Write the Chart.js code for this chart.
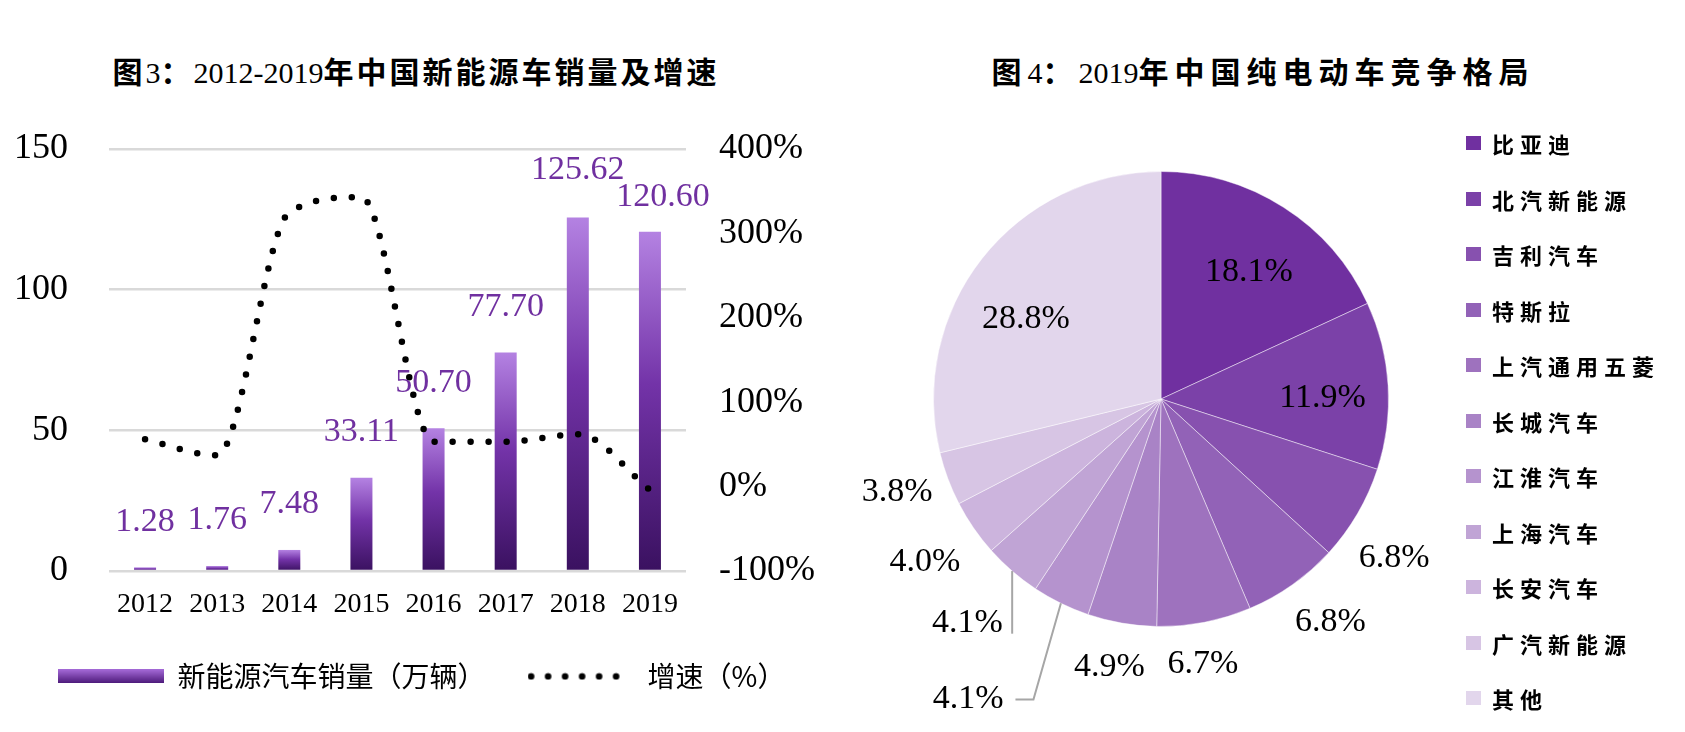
<!DOCTYPE html>
<html lang="zh-CN">
<head>
<meta charset="utf-8">
<title>新能源车销量及纯电动车竞争格局</title>
<script src="https://cdn.jsdelivr.net/npm/chart.js@4.4.1/dist/chart.umd.min.js"></script>
<style>
  html, body { margin: 0; padding: 0; background: #fff; overflow: hidden; }
  body { width: 1685px; height: 732px; position: relative; }
  .fig-title {
    position: absolute; top: 55px; transform: translateX(-50%);
    white-space: nowrap; color: #000;
    font-family: 'Liberation Serif', 'Noto Sans CJK SC', serif;
    font-size: 30px; font-weight: bold; line-height: 36px;
  }
  .fig-title .num { letter-spacing: 0; font-weight: normal; }
  #title3 { left: 416px; letter-spacing: 3px; }
  #title4 { left: 1263px; letter-spacing: 6px; }
  #salesCanvas { position: absolute; left: 0; top: 0; }
  #bevCanvas { position: absolute; left: 830px; top: 0; }
  #bevLegend { position: absolute; left: 1466px; top: 0; margin: 0; padding: 0; list-style: none; }
  #bevLegend li {
    position: absolute; left: 0; height: 28px; display: flex; align-items: center; white-space: nowrap;
    font-family: 'Noto Sans CJK SC', sans-serif; font-size: 22px; font-weight: bold;
    letter-spacing: 6px; color: #000;
  }
  #bevLegend .swatch { display: inline-block; width: 15px; height: 14px; margin-right: 11px; }
</style>
</head>
<body>
<div class="fig-title" id="title3">图<span class="num">3</span>：<span class="num">2012-2019</span>年中国新能源车销量及增速</div>
<div class="fig-title" id="title4">图<span class="num">4</span>：<span class="num">2019</span>年中国纯电动车竞争格局</div>
<canvas id="salesCanvas" width="830" height="732"></canvas>
<canvas id="bevCanvas" width="855" height="732"></canvas>
<ul id="bevLegend"></ul>
<script>
// 图3 数据
const years = ['2012', '2013', '2014', '2015', '2016', '2017', '2018', '2019'];
const sales = [1.28, 1.76, 7.48, 33.11, 50.70, 77.70, 125.62, 120.60];   // 万辆
const growth = [56, 37, 325, 343, 53, 53, 62, -4];                        // %
const salesTicks = [0, 50, 100, 150];
const growthTicks = [-100, 0, 100, 200, 300, 400];

// 图4 数据
const brands = ['比亚迪', '北汽新能源', '吉利汽车', '特斯拉', '上汽通用五菱', '长城汽车',
                '江淮汽车', '上海汽车', '长安汽车', '广汽新能源', '其他'];
const shares = [18.1, 11.9, 6.8, 6.8, 6.7, 4.9, 4.1, 4.1, 4.0, 3.8, 28.8];

const serif = "'Liberation Serif', 'Times New Roman', serif";
const cjk = "'Noto Sans CJK SC', sans-serif";

const pieColors = ['#7030a0', '#7b41a8', '#8751af', '#9262b7', '#9e72be', '#a983c6',
                   '#b593ce', '#c0a4d5', '#ccb4dd', '#d7c5e4', '#e2d6ec'];

// 柱子渐变：每根柱子从顶部浅紫到底部深紫
function barGradient(context) {
    const chart = context.chart;
    if (!chart.chartArea || context.type !== 'data') return '#7030a0';
    const y = chart.scales.y;
    const top = y.getPixelForValue(context.raw);
    const base = y.getPixelForValue(0);
    const g = chart.ctx.createLinearGradient(0, top, 0, base);
    g.addColorStop(0, '#b482e2');
    g.addColorStop(0.45, '#7333a8');
    g.addColorStop(1, '#3a1160');
    return g;
}

// 图例小样
function barSwatch() {
    const c = document.createElement('canvas');
    c.width = 106; c.height = 14;
    const cx = c.getContext('2d');
    const g = cx.createLinearGradient(0, 0, 0, 14);
    g.addColorStop(0, '#a56ad8');
    g.addColorStop(1, '#4b1878');
    cx.fillStyle = g;
    cx.fillRect(0, 0, 106, 14);
    return c;
}
function dotSwatch() {
    const c = document.createElement('canvas');
    c.width = 106; c.height = 8;
    const cx = c.getContext('2d');
    cx.fillStyle = '#000';
    for (let i = 0; i < 6; i++) {
        cx.beginPath();
        cx.arc(3.5 + 17 * i, 4, 3.3, 0, Math.PI * 2);
        cx.fill();
    }
    return c;
}

// 柱顶数值
const barLabels = {
    id: 'barLabels',
    afterDatasetsDraw(chart, args, opts) {
        const meta = chart.getDatasetMeta(0);
        const ctx = chart.ctx;
        ctx.save();
        ctx.font = opts.font;
        ctx.fillStyle = opts.color;
        ctx.textAlign = 'center';
        ctx.textBaseline = 'middle';
        meta.data.forEach(function (bar, i) {
            const n = opts.nudge[i] || [0, 0];
            ctx.fillText(sales[i].toFixed(2), bar.x + n[0], bar.y - opts.offset + n[1]);
        });
        ctx.restore();
    }
};

// 饼图百分比标签（含引导线）
const pieLabels = {
    id: 'pieLabels',
    afterDatasetsDraw(chart, args, opts) {
        const meta = chart.getDatasetMeta(0);
        const ctx = chart.ctx;
        ctx.save();
        ctx.font = opts.font;
        ctx.textAlign = 'center';
        ctx.textBaseline = 'middle';
        meta.data.forEach(function (arc, i) {
            const p = arc.getProps(['x', 'y', 'startAngle', 'endAngle', 'outerRadius'], true);
            const place = opts.placement[i];
            const mid = (p.startAngle + p.endAngle) / 2;
            const a = mid + place.turn * Math.PI / 180;
            const x = p.x + Math.cos(a) * p.outerRadius * place.r;
            const y = p.y + Math.sin(a) * p.outerRadius * place.r;
            const text = shares[i].toFixed(1) + '%';
            if (place.leader) {
                const ex = p.x + Math.cos(mid) * p.outerRadius;
                const ey = p.y + Math.sin(mid) * p.outerRadius;
                const right = x + ctx.measureText(text).width / 2;
                ctx.beginPath();
                ctx.moveTo(ex, ey);
                if (place.leader.vertical) {
                    ctx.lineTo(ex, y + place.leader.dy);
                } else {
                    ctx.lineTo(right + place.leader.dx, y + place.leader.dy);
                    ctx.lineTo(right + 12, y + place.leader.dy);
                }
                ctx.strokeStyle = opts.leaderColor;
                ctx.lineWidth = 2;
                ctx.stroke();
            }
            ctx.fillStyle = '#000';
            ctx.fillText(text, x, y);
        });
        ctx.restore();
    }
};

// HTML 图例
const htmlLegend = {
    id: 'htmlLegend',
    afterUpdate(chart, args, opts) {
        const list = document.getElementById(opts.containerID);
        list.innerHTML = '';
        const items = chart.options.plugins.legend.labels.generateLabels(chart);
        items.forEach(function (item, i) {
            const li = document.createElement('li');
            li.style.top = (opts.firstY + opts.rowGap * i - 14) + 'px';
            const box = document.createElement('span');
            box.className = 'swatch';
            box.style.background = item.fillStyle;
            const label = document.createElement('span');
            label.textContent = item.text;
            li.appendChild(box);
            li.appendChild(label);
            list.appendChild(li);
        });
    }
};

// ===== 图3：销量（柱）+ 增速（点线） =====
new Chart(document.getElementById('salesCanvas'), {
    type: 'bar',
    data: {
        labels: years,
        datasets: [{
            label: '新能源汽车销量（万辆）',
            data: sales,
            backgroundColor: barGradient,
            barPercentage: 0.305,
            categoryPercentage: 1,
            yAxisID: 'y',
            order: 1
        }, {
            type: 'line',
            label: '增速（%）',
            data: growth,
            yAxisID: 'y1',
            borderColor: '#000',
            borderWidth: 6.5,
            borderDash: [0, 18],
            borderCapStyle: 'round',
            cubicInterpolationMode: 'monotone',
            pointRadius: 0,
            fill: false,
            order: 0
        }]
    },
    options: {
        responsive: false,
        animation: false,
        layout: { padding: { top: 149, left: 13, right: 0, bottom: 31.6 } },
        scales: {
            x: {
                grid: { display: false, drawTicks: false },
                border: { display: false },
                ticks: { padding: 17, color: '#000', font: { family: serif, size: 28 } },
                afterFit(scale) { scale.height = 49.4; }
            },
            y: {
                position: 'left',
                min: salesTicks[0],
                max: salesTicks[salesTicks.length - 1],
                ticks: { stepSize: salesTicks[1] - salesTicks[0], padding: 41, color: '#000',
                         font: { family: serif, size: 36 } },
                grid: { color: '#d9d9d9', lineWidth: 2.5, drawTicks: false },
                border: { display: false },
                afterFit(scale) { scale.width = 96; }
            },
            y1: {
                position: 'right',
                min: growthTicks[0],
                max: growthTicks[growthTicks.length - 1],
                ticks: { stepSize: growthTicks[1] - growthTicks[0], padding: 33, color: '#000',
                         font: { family: serif, size: 36 },
                         callback: function (v) { return v + '%'; } },
                grid: { display: false, drawTicks: false },
                border: { display: false },
                afterFit(scale) { scale.width = 144; }
            }
        },
        plugins: {
            tooltip: { enabled: false },
            legend: {
                position: 'bottom',
                labels: {
                    usePointStyle: true,
                    pointStyleWidth: 106,
                    padding: 42,
                    color: '#000',
                    font: { family: cjk, size: 28 },
                    generateLabels: function (chart) {
                        return chart.data.datasets.map(function (ds, i) {
                            return {
                                text: ds.label,
                                pointStyle: i === 0 ? barSwatch() : dotSwatch(),
                                fillStyle: 'transparent',
                                strokeStyle: 'transparent',
                                lineWidth: 0,
                                hidden: false,
                                datasetIndex: i
                            };
                        });
                    }
                }
            },
            barLabels: {
                font: '34px ' + serif,
                color: '#7030a0',
                offset: 45.5,
                nudge: { 6: [0, -2], 7: [13, 11] }
            }
        }
    },
    plugins: [barLabels]
});

// ===== 图4：纯电动车竞争格局（饼） =====
new Chart(document.getElementById('bevCanvas'), {
    type: 'pie',
    data: {
        labels: brands,
        datasets: [{
            data: shares,
            backgroundColor: pieColors,
            borderColor: 'rgba(255, 255, 255, 0.45)',
            borderWidth: 1
        }]
    },
    options: {
        responsive: false,
        animation: false,
        layout: { padding: { top: 171, left: 103, right: 296, bottom: 105 } },
        plugins: {
            legend: { display: false },
            tooltip: { enabled: false },
            htmlLegend: { containerID: 'bevLegend', firstY: 143, rowGap: 55.5 },
            pieLabels: {
                font: '34px ' + serif,
                leaderColor: '#a6a6a6',
                placement: [
                    { r: 0.68, turn: 2 },
                    { r: 0.71, turn: 3 },
                    { r: 1.24, turn: 4 },
                    { r: 1.23, turn: -2 },
                    { r: 1.18, turn: 2 },
                    { r: 1.20, turn: 1 },
                    { r: 1.57, turn: 6.6, leader: { dx: 30, dy: 0 } },
                    { r: 1.30, turn: 0, leader: { vertical: true, dy: 11 } },
                    { r: 1.26, turn: 0 },
                    { r: 1.23, turn: 1 },
                    { r: 0.69, turn: -7.5 }
                ]
            }
        }
    },
    plugins: [pieLabels, htmlLegend]
});
</script>
</body>
</html>
